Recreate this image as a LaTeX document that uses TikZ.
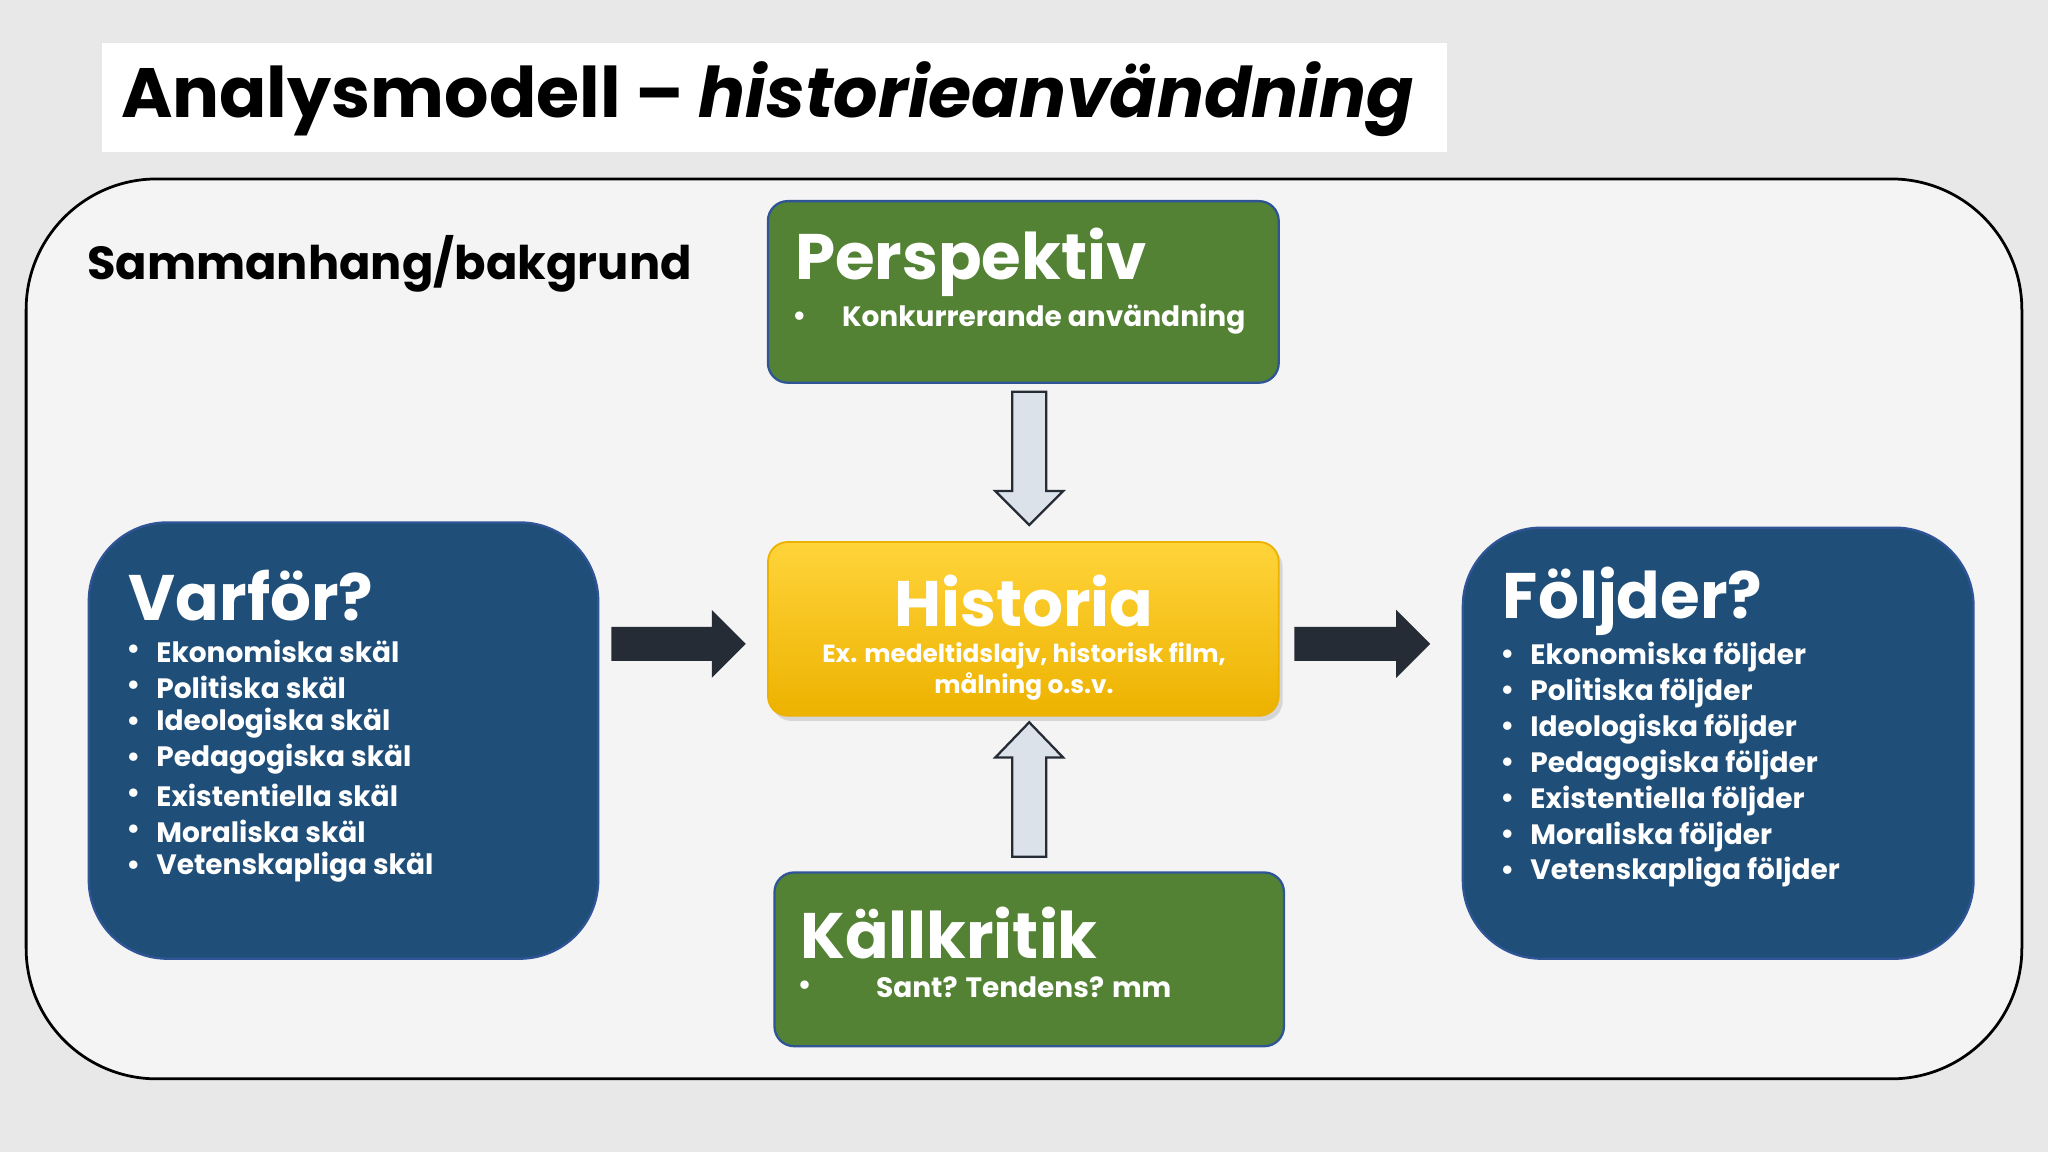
\documentclass[tikz,border=0pt]{standalone}
\usepackage{fontspec}
\setmainfont{Poppins}
\usetikzlibrary{shadows}
\definecolor{bg}{HTML}{E8E8E8}
\definecolor{inner}{HTML}{F4F4F4}
\definecolor{grn}{HTML}{548235}
\definecolor{navy}{HTML}{1F4E79}
\definecolor{bord}{HTML}{2F5597}
\definecolor{darkarr}{HTML}{262C35}
\definecolor{lightarr}{HTML}{DCE2EA}
\definecolor{ytop}{HTML}{FFD43A}
\definecolor{ybot}{HTML}{EDB200}
\begin{document}
\begin{tikzpicture}[x=0.01cm,y=-0.01cm,
  greenbox/.style={draw=bord,line width=0.5pt,fill=grn,rounded corners=0.15cm},
  navybox/.style={draw=bord,line width=0.5pt,fill=navy,rounded corners=0.6cm},
  head/.style={anchor=west,text=white,font=\bfseries\fontsize{14}{16}\selectfont,inner sep=0},
  bul/.style={anchor=west,text=white,font=\bfseries\fontsize{6.1}{7.5}\selectfont,inner sep=0},
  darrow/.style={fill=darkarr},
  larrow/.style={fill=lightarr,draw=darkarr,line width=0.5pt}]
\fill[bg] (0,0) rectangle (1568,882);
\useasboundingbox (0,0) rectangle (1568,882);
\fill[white] (78,33) rectangle (1108,116);
\node[anchor=west,inner sep=0,font=\bfseries\fontsize{15.2}{18}\selectfont] (title) at (92,76) {Analysmodell – \itshape historieanvändning};
\draw[fill=inner,line width=0.6pt,rounded corners=1cm] (20,137) rectangle (1548,826);
\node[anchor=west,inner sep=0,font=\bfseries\fontsize{10.1}{12}\selectfont] (ctx) at (66,202) {Sammanhang/bakgrund};
% Perspektiv
\draw[greenbox] (588,154) rectangle (979,293);
\node[head] (persp) at (608,201) {Perspektiv};
\node[bul] (pb) at (606,244) {•};
\node[bul] (pt) at (644,244) {Konkurrerande användning};
% Historia
\shade[top color=ytop,bottom color=ybot,rounded corners=0.15cm,draw=ybot,drop shadow={opacity=0.25,shadow xshift=0.03cm,shadow yshift=-0.04cm}] (588,415) rectangle (979,548);
\node[anchor=center,text=white,inner sep=0,font=\bfseries\fontsize{14}{16}\selectfont] (hist) at (784,460) {Historia};
\node[anchor=center,text=white,inner sep=0,align=center,font=\bfseries\fontsize{5.4}{6.8}\selectfont] (histsub) at (784,514) {Ex. medeltidslajv, historisk film,\\målning o.s.v.};
% Kallkritik
\draw[greenbox] (593,668) rectangle (983,801);
\node[head] (kk) at (612,714) {Källkritik};
\node[bul] (kb) at (610,756) {•};
\node[bul] (kt) at (670,756) {Sant? Tendens? mm};
% Varfor
\draw[navybox] (68,400) rectangle (458,734);
\node[head] (vf) at (98,456) {Varför?};
\foreach \t [count=\i] in {Ekonomiska skäl,Politiska skäl,Ideologiska skäl,Pedagogiska skäl,Existentiella skäl,Moraliska skäl,Vetenskapliga skäl}{
  \node[bul] (vb\i) at (96,{499+27.5*(\i-1)}) {•};
  \node[bul] (vt\i) at (119,{499+27.5*(\i-1)}) {\t};
}
% Foljder
\draw[navybox] (1120,404) rectangle (1511,734);
\node[head] (fj) at (1150,460) {Följder?};
\foreach \t [count=\i] in {Ekonomiska följder,Politiska följder,Ideologiska följder,Pedagogiska följder,Existentiella följder,Moraliska följder,Vetenskapliga följder}{
  \node[bul] (fb\i) at (1148,{503+27.5*(\i-1)}) {•};
  \node[bul] (ft\i) at (1171,{503+27.5*(\i-1)}) {\t};
}
% arrows
\fill[darrow] (468,480) -- (545,480) -- (545,467) -- (571,493) -- (545,519) -- (545,506) -- (468,506) -- cycle;
\fill[darrow] (991,480) -- (1069,480) -- (1069,467) -- (1095,493) -- (1069,519) -- (1069,506) -- (991,506) -- cycle;
\draw[larrow] (775,300) -- (801,300) -- (801,376) -- (814,376) -- (788,402) -- (762,376) -- (775,376) -- cycle;
\draw[larrow] (775,656) -- (801,656) -- (801,580) -- (814,580) -- (788,553) -- (762,580) -- (775,580) -- cycle;
\end{tikzpicture}
\end{document}
